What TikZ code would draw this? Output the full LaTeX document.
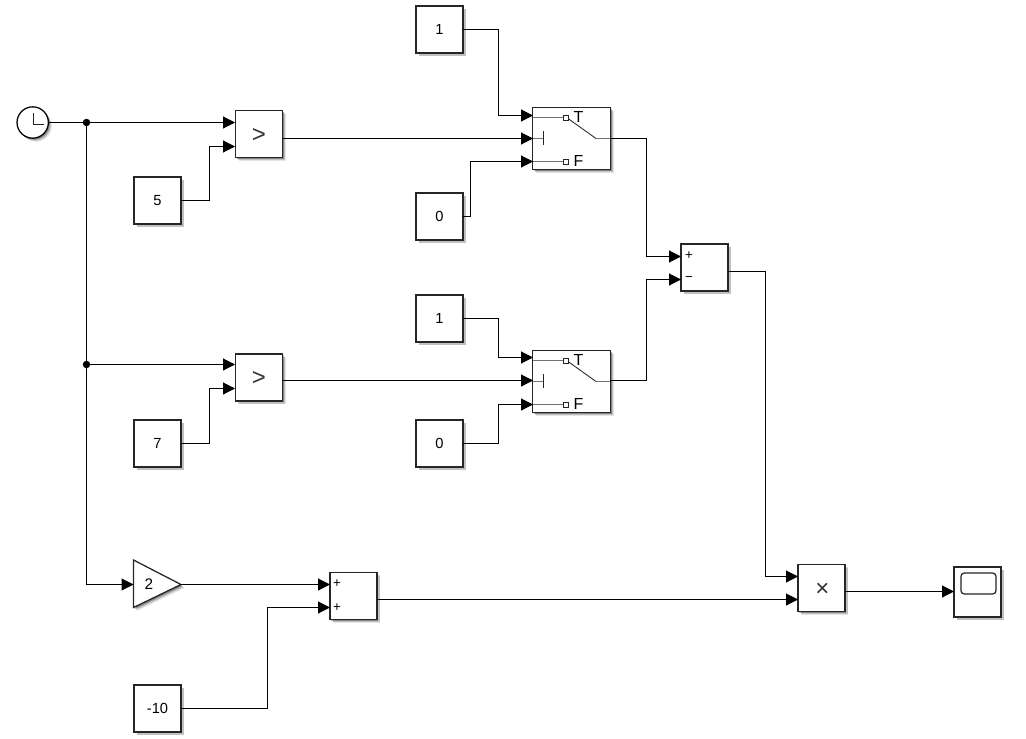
\documentclass[tikz,border=0pt]{standalone}
\usepackage{fontspec}
\setmainfont{Liberation Sans}
\usetikzlibrary{arrows.meta,shadows,calc}
\tikzset{
  softshade/.style={drop shadow={shadow xshift=2.6pt,shadow yshift=-2.6pt,fill=black,opacity=.10},
                    drop shadow={shadow xshift=1.9pt,shadow yshift=-1.9pt,fill=black,opacity=.16},
                    drop shadow={shadow xshift=1.1pt,shadow yshift=-1.1pt,fill=black,opacity=.30}},
  blockbox/.style={draw=black!85,line width=0.95pt,fill=white,softshade,inner sep=0pt,outer sep=0pt,font=\fontsize{11}{13}\selectfont},
  sq/.style={blockbox,minimum width=35.25pt,minimum height=35.25pt},
  swbox/.style={blockbox,minimum width=58pt,minimum height=47pt},
  wire/.style={draw=black,line width=0.85pt,-{Triangle[length=9pt,width=9pt]}},
  plainwire/.style={draw=black,line width=0.85pt},
  inner/.style={draw=black!55,line width=1pt},
  innerthin/.style={draw=black!85,line width=0.65pt},
  port/.style={draw=black!85,fill=white,line width=0.6pt,minimum size=3.6pt,inner sep=0pt},
  sign/.style={inner sep=0pt,font=\fontsize{10}{12}\selectfont},
  swlab/.style={inner sep=0pt,font=\fontsize{12}{14}\selectfont},
  dot/.style={circle,fill=black,inner sep=0pt,minimum size=5.6pt},
  bigsym/.style={inner sep=0pt,text=black!80,font=\fontsize{18}{20}\selectfont},
}
\begin{document}
\begin{tikzpicture}[x=0.75pt,y=-0.75pt]
\useasboundingbox (0,0) rectangle (1026,739);
\fill[white] (0,0) rectangle (1026,739);

% clock
\node[circle,draw=black,line width=0.95pt,fill=white,softshade,minimum size=23.5pt,inner sep=0pt,outer sep=0pt] (clock) at (32.7,122.5) {};
\draw[innerthin] (33.5,113) -- (33.5,124) -- (44,124);

% constants
\node[sq] (c1a) at (439.5,29.5) {1};
\node[sq] (c0a) at (439.5,216.5) {0};
\node[sq] (c1b) at (439.5,318.5) {1};
\node[sq] (c0b) at (439.5,443.5) {0};
\node[sq] (c5) at (157.5,200.5) {5};
\node[sq] (c7) at (157.5,443.5) {7};
\node[sq] (cm10) at (157.5,708.5) {-10};

% relational operators
\node[sq] (rel1) at (259,134) {};
\node[sq] (rel2) at (259,377.5) {};
\node[bigsym] (rel1g) at (259,136) {>};
\node[bigsym] (rel2g) at (259,379) {>};

% switches
\node[swbox] (sw1) at (571.5,138.5) {};
\node[swbox] (sw2) at (571.5,381.5) {};

% sums, product, scope
\node[sq] (sum1) at (704.5,267.5) {};
\node[sq] (sum2) at (353.5,596) {};
\node[sq] (prod) at (821.5,588) {};
\node[bigsym] (prodg) at (822.5,590) {×};
\node[sq,minimum height=37.5pt] (scope) at (977.5,592) {};
\draw[draw=black!85,line width=0.95pt,rounded corners=2.5pt] (961,573) rectangle (996,594);

% gain
\draw[blockbox] (133.5,560) -- (181,584.5) -- (133.5,607.5) -- cycle;
\coordinate (gainin) at (133.5,584.5);
\coordinate (gainout) at (181,584.5);
\node[inner sep=0pt,font=\fontsize{11.5}{13}\selectfont] (gainlab) at (149,584) {2};

% signs
\node[sign] (s1p) at (689,256) {+};
\node[sign] (s1m) at (689,279) {−};
\node[sign] (s2p) at (337,584) {+};
\node[sign] (s2q) at (337,607.5) {+};

% switch internals
\foreach \s/\y in {sw1/107,sw2/350}{
  \draw[inner] (533,\y+10.5) -- (563.5,\y+10.5);
  \draw[inner] (533,\y+54.5) -- (563.5,\y+54.5);
  \draw[inner] (533,\y+31.5) -- (543,\y+31.5);
  \draw[innerthin] (543.5,\y+24) -- (543.5,\y+38);
  \draw[innerthin] (568,\y+11.5) -- (596,\y+31.5);
  \draw[inner] (596,\y+31.5) -- (610,\y+31.5);
  \node[port] at (566,\y+10.5) {};
  \node[port] at (566,\y+54.5) {};
  \node[swlab] at (578.5,\y+10) {T};
  \node[swlab] at (578.5,\y+54) {F};
}

% ports and junctions
\node[dot] (j1) at (86.5,122.5) {};
\node[dot] (j2) at (86.5,364.5) {};
\coordinate (r1a) at (235,122.5);
\coordinate (r1b) at (235,146.5);
\coordinate (r2a) at (235,364.5);
\coordinate (r2b) at (235,388.5);
\coordinate (r1o) at (283,138.5);
\coordinate (r2o) at (283,380.5);
\coordinate (w1a) at (533,115.5);
\coordinate (w1b) at (533,138.5);
\coordinate (w1c) at (533,161.5);
\coordinate (w2a) at (533,357.5);
\coordinate (w2b) at (533,380.5);
\coordinate (w2c) at (533,404.5);
\coordinate (u1a) at (681,256.5);
\coordinate (u1b) at (681,279.5);
\coordinate (u1o) at (728,271.5);
\coordinate (u2a) at (330,584.5);
\coordinate (u2b) at (330,607.5);
\coordinate (u2o) at (377,599.5);
\coordinate (pa) at (798,576.5);
\coordinate (pb) at (798,599.5);
\coordinate (po) at (845,591.5);
\coordinate (so) at (954,591.5);
\coordinate (w1o) at (610,138.5);
\coordinate (w2o) at (610,380.5);

% connectors
\draw[plainwire] (clock.east) -- (j1.center);
\draw[wire] (j1.center) -- (r1a);
\draw[plainwire] (j1.center) -- (j2.center);
\draw[wire] (j2.center) -- (r2a);
\draw[wire] (j2.center) |- (gainin);
\draw[wire] (gainout) -- (u2a);
\draw[wire] (c5.east) -- ++(28.5,0) |- (r1b);
\draw[wire] (c7.east) -- ++(28.5,0) |- (r2b);
\draw[wire] (cm10.east) -- ++(86.5,0) |- (u2b);
\draw[wire] (r1o) -- (w1b);
\draw[wire] (r2o) -- (w2b);
\draw[wire] (c1a.east) -- ++(35.5,0) |- (w1a);
\draw[wire] (c0a.east) -- ++(7.5,0) |- (w1c);
\draw[wire] (c1b.east) -- ++(35.5,0) |- (w2a);
\draw[wire] (c0b.east) -- ++(35.5,0) |- (w2c);
\draw[wire] (w1o) -- ++(36.5,0) |- (u1a);
\draw[wire] (w2o) -- ++(36.5,0) |- (u1b);
\draw[wire] (u1o) -- ++(37.5,0) |- (pa);
\draw[wire] (u2o) -- (pb);
\draw[wire] (po) -- (so);
\end{tikzpicture}
\end{document}
